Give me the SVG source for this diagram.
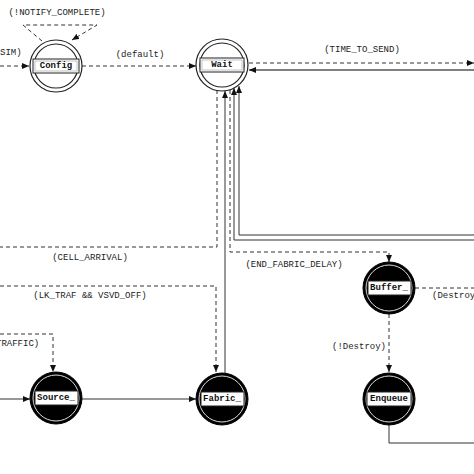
<svg xmlns="http://www.w3.org/2000/svg" width="474" height="474" viewBox="0 0 474 474">
<style>
text{font-family:"Liberation Mono","DejaVu Sans Mono",monospace;font-size:9px;fill:#222}
.lbl{text-anchor:middle;dominant-baseline:central}
.nl{text-anchor:middle;dominant-baseline:central;font-weight:bold;fill:#111}
.d{fill:none;stroke:#333;stroke-width:1;stroke-dasharray:4 3}
.s{fill:none;stroke:#333;stroke-width:1}
.t{fill:none;stroke:#555;stroke-width:1.6}
.ring{fill:#fff;stroke:#222;stroke-width:1.2}
.blk{fill:#000;stroke:#000}
.wr{fill:none;stroke:#ddd;stroke-width:1}
.box{fill:#fff;stroke:#222;stroke-width:1}
.ib{fill:none;stroke:#999;stroke-width:0.6}
</style>
<defs>
<marker id="a" markerUnits="userSpaceOnUse" markerWidth="7" markerHeight="6" refX="7" refY="3" orient="auto">
<path d="M0,0 L7,3 L0,6 z" fill="#111"/>
</marker>
</defs>
<rect width="474" height="474" fill="#fff"/>
<g id="connectors">
<path class="d" d="M0,66 L29,66" marker-end="url(#a)"/>
<path class="d" d="M42,41 L23,25 L97,25 L72,40" marker-end="url(#a)"/>
<path class="d" d="M82,66 L196,66" marker-end="url(#a)"/>
<path class="d" d="M249,63 L474,63" marker-end="url(#a)"/>
<path class="t" d="M474,70 L249,70" marker-end="url(#a)"/>
<path class="d" d="M217,90 L217,247 L0,247"/>
<path class="s" d="M225,373 L225,91" marker-end="url(#a)"/>
<path class="d" d="M230,90 L230,252 L389,252 L389,262" marker-end="url(#a)"/>
<path class="s" d="M474,235 L239,235 L239,86" marker-end="url(#a)"/>
<path class="s" d="M474,240 L234,240 L234,88" marker-end="url(#a)"/>
<path class="d" d="M0,286 L216,286 L216,372" marker-end="url(#a)"/>
<path class="d" d="M0,334 L53,334 L53,372" marker-end="url(#a)"/>
<path class="s" d="M0,399 L30,399" marker-end="url(#a)"/>
<path class="s" d="M82,399 L196,399" marker-end="url(#a)"/>
<path class="d" d="M415,288 L474,288"/>
<path class="d" d="M389,314 L389,372" marker-end="url(#a)"/>
<path class="s" d="M389,425 L389,443 L474,443"/>
<text x="0" y="53" class="lbl" style="text-anchor:start">SIM)</text>
<text x="57" y="13" class="lbl">(!NOTIFY_COMPLETE)</text>
<text x="140" y="55" class="lbl">(default)</text>
<text x="362" y="50" class="lbl">(TIME_TO_SEND)</text>
<text x="90" y="258" class="lbl">(CELL_ARRIVAL)</text>
<text x="90" y="296" class="lbl">(LK_TRAF &amp;&amp; VSVD_OFF)</text>
<text x="-4" y="344" class="lbl" style="text-anchor:start">TRAFFIC)</text>
<text x="294" y="265" class="lbl">(END_FABRIC_DELAY)</text>
<text x="432" y="296" class="lbl" style="text-anchor:start">(Destroy)</text>
<text x="359" y="347" class="lbl">(!Destroy)</text>
</g>
<g id="config">
<circle class="ring" cx="56" cy="66" r="26"/>
<circle class="ring" cx="56" cy="66" r="22"/>
<rect class="box" x="33" y="59" width="46" height="14"/>
<rect class="ib" x="35" y="61" width="42" height="10"/>
<text class="nl" x="56" y="66">Config</text>
</g>
<g id="wait">
<circle class="ring" cx="222" cy="65" r="26"/>
<circle class="ring" cx="222" cy="65" r="22"/>
<rect class="box" x="200" y="58" width="44" height="14"/>
<rect class="ib" x="202" y="60" width="40" height="10"/>
<text class="nl" x="222" y="65">Wait</text>
</g>
<g id="source">
<circle class="blk" cx="56" cy="398" r="26"/>
<circle class="wr" cx="56" cy="398" r="23"/>
<rect class="box" x="35" y="391" width="43" height="14"/>
<text class="nl" x="56" y="398">Source_</text>
</g>
<g id="fabric">
<circle class="blk" cx="222" cy="399" r="26"/>
<circle class="wr" cx="222" cy="399" r="23"/>
<rect class="box" x="201" y="392" width="43" height="14"/>
<text class="nl" x="222" y="399">Fabric_</text>
</g>
<g id="buffer">
<circle class="blk" cx="389" cy="288" r="26"/>
<circle class="wr" cx="389" cy="288" r="23"/>
<rect class="box" x="368" y="281" width="43" height="14"/>
<text class="nl" x="389" y="288">Buffer_</text>
</g>
<g id="enqueue">
<circle class="blk" cx="389" cy="399" r="26"/>
<circle class="wr" cx="389" cy="399" r="23"/>
<rect class="box" x="367" y="392" width="44" height="14"/>
<text class="nl" x="389" y="399">Enqueue</text>
</g>
</svg>
